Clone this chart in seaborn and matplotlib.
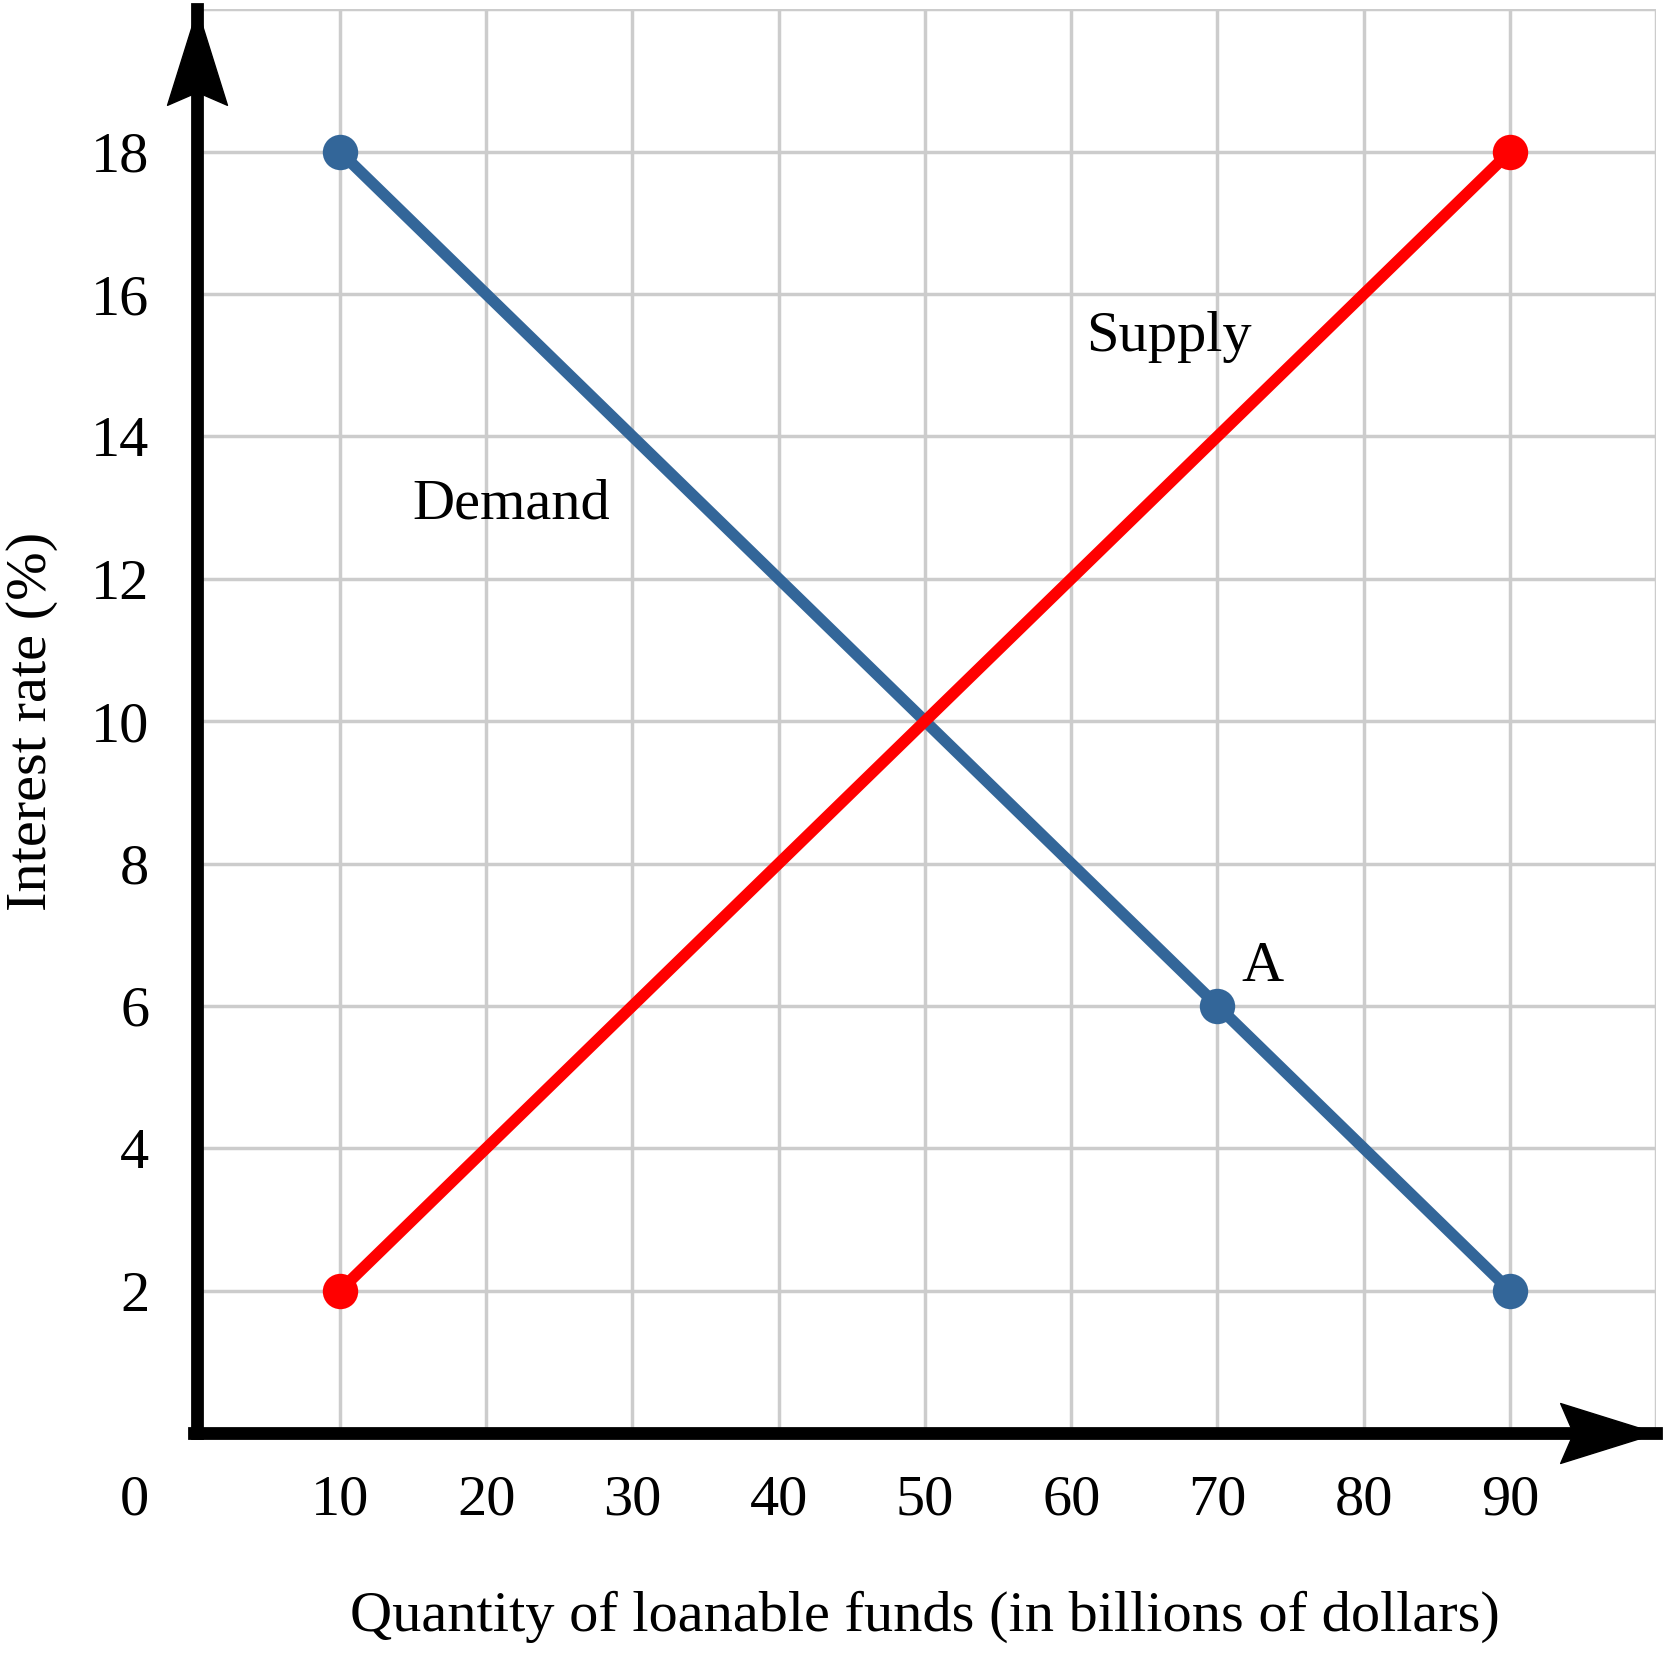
import matplotlib
matplotlib.use("Agg")
import matplotlib.pyplot as plt
import seaborn as sns
import pandas as pd
from matplotlib.path import Path

# data
demand_q = [10, 70, 90]
demand_r = [18, 6, 2]
supply_q = [10, 90]
supply_r = [2, 18]
x_ticks = [10, 20, 30, 40, 50, 60, 70, 80, 90]
y_ticks = [2, 4, 6, 8, 10, 12, 14, 16, 18]

blue = "#336699"
red = "#ff0000"

sns.set_theme(style="whitegrid")
plt.rcParams['font.family'] = ['Liberation Serif', 'DejaVu Serif']
plt.rcParams['text.color'] = 'black'
plt.rcParams['axes.labelcolor'] = 'black'

demand = pd.DataFrame({"q": demand_q, "r": demand_r})
supply = pd.DataFrame({"q": supply_q, "r": supply_r})

fig = plt.figure(figsize=(16.67, 16.67), dpi=100)
ax = fig.add_axes([0.1162, 0.14037, 0.99355 - 0.1162, 0.99442 - 0.14037])

sns.lineplot(data=demand, x="q", y="r", color=blue, linewidth=8.3, sort=False, ax=ax, zorder=3)
sns.lineplot(data=supply, x="q", y="r", color=red, linewidth=8.3, sort=False, ax=ax, zorder=3)
sns.scatterplot(data=demand, x="q", y="r", color=blue, s=650, linewidth=0, ax=ax, zorder=4, clip_on=False)
sns.scatterplot(data=supply, x="q", y="r", color=red, s=650, linewidth=0, ax=ax, zorder=4, clip_on=False)

ax.set_xlim(0, 100)
ax.set_ylim(0, 20)
ax.set_xticks(x_ticks + [100])
ax.set_xticklabels([str(v) for v in x_ticks] + [""])
ax.set_yticks(y_ticks + [20])
ax.set_yticklabels([str(v) for v in y_ticks] + [""])

ax.grid(True, color="#cccccc", linewidth=2.5)
for s in ax.spines.values():
    s.set_visible(False)

ax.tick_params(axis="both", direction="out", length=20, width=2.2, color="black",
               labelsize=42, labelcolor="black")
ax.tick_params(axis="x", pad=10)
ax.tick_params(axis="y", pad=12)
for t in ax.xaxis.get_major_ticks()[-1:] + ax.yaxis.get_major_ticks()[-1:]:
    t.tick1line.set_visible(False)

# axis lines with arrow heads
ax.plot([0.25, 0.25], [0, 20], color="black", linewidth=9.2, clip_on=False, zorder=5,
        solid_capstyle="projecting")
ax.plot([0, 100], [0, 0], color="black", linewidth=9.2, clip_on=False, zorder=5,
        solid_capstyle="projecting")
up_head = Path([(0, 0), (-30, -96), (0, -83), (30, -96), (0, 0)],
               [Path.MOVETO, Path.LINETO, Path.LINETO, Path.LINETO, Path.CLOSEPOLY])
right_head = Path([(0, 0), (-96, 30), (-83, 0), (-96, -30), (0, 0)],
                  [Path.MOVETO, Path.LINETO, Path.LINETO, Path.LINETO, Path.CLOSEPOLY])
ax.plot([0.25], [20], marker=up_head, markersize=138, color="black", clip_on=False, zorder=6)
ax.plot([100], [0], marker=right_head, markersize=138, color="black", clip_on=False, zorder=6)

ax.text(-4.05, -0.95, "0", fontsize=42, ha="center", va="center")
ax.text(66.7, 15.4, "Supply", fontsize=42, ha="center", va="center")
ax.text(21.7, 13.05, "Demand", fontsize=42, ha="center", va="center")
ax.text(73.1, 6.55, "A", fontsize=42, ha="center", va="center")

ax.set_xlabel("Quantity of loanable funds (in billions of dollars)", fontsize=42, labelpad=46)
ax.set_ylabel("Interest rate (%)", fontsize=42, labelpad=24)

fig.savefig("out.png", dpi=100, facecolor="white")
